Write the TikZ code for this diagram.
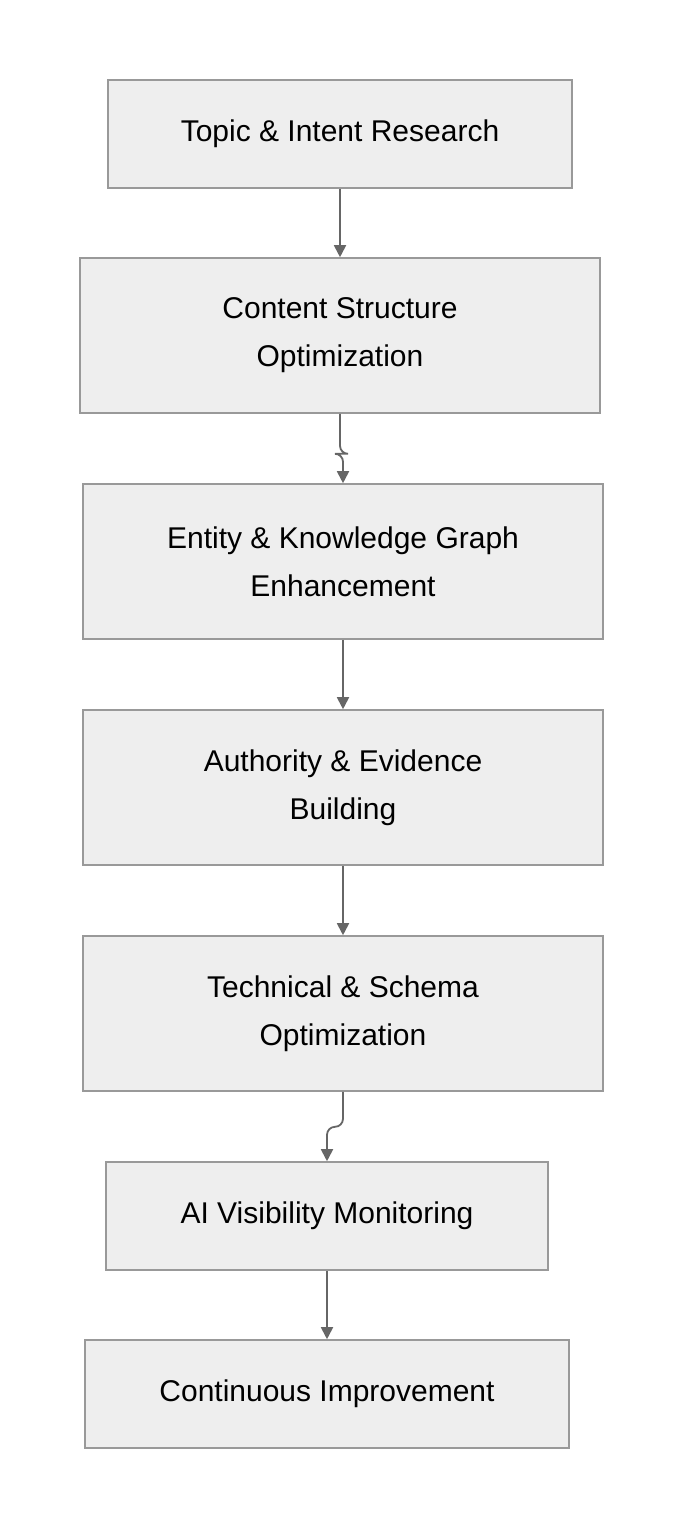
\documentclass[tikz,border=0pt]{standalone}
\usepackage{fontspec}
\setmainfont{Liberation Sans}
\usetikzlibrary{arrows.meta}
\definecolor{boxfill}{HTML}{EEEEEE}
\definecolor{boxline}{HTML}{999999}
\definecolor{arrowcol}{HTML}{666666}
\tikzset{
  stage/.style={draw=boxline, fill=boxfill, line width=0.8pt, align=center,
    font=\fontsize{15pt}{24pt}\selectfont, inner sep=0pt},
  flow/.style={draw=arrowcol, line width=0.9pt, -{Triangle[length=6pt,width=6pt]}, rounded corners=4pt}
}
\begin{document}
\begin{tikzpicture}[x=0.5pt, y=-0.5pt]
  \useasboundingbox (0,0) rectangle (682,1528);
  \node[stage, minimum width=232pt, minimum height=54pt] (topic) at (340,134) {Topic \& Intent Research};
  \node[stage, minimum width=260pt, minimum height=77.5pt] (structure) at (340,335.5) {Content Structure\\Optimization};
  \node[stage, minimum width=260pt, minimum height=77.5pt] (entity) at (343,561.5) {Entity \& Knowledge Graph\\Enhancement};
  \node[stage, minimum width=260pt, minimum height=77.5pt] (authority) at (343,787.5) {Authority \& Evidence\\Building};
  \node[stage, minimum width=260pt, minimum height=77.5pt] (technical) at (343,1013.5) {Technical \& Schema\\Optimization};
  \node[stage, minimum width=221pt, minimum height=54pt] (monitor) at (327,1216) {AI Visibility Monitoring};
  \node[stage, minimum width=242pt, minimum height=54pt] (improve) at (327,1394) {Continuous Improvement};
  % connectors
  \draw[flow] (topic) -- (structure);
  \draw[flow] (structure.south) -- ++(0,40) -| (entity.north);
  \draw[flow] (entity) -- (authority);
  \draw[flow] (authority) -- (technical);
  \draw[flow] (technical.south) -- ++(0,35) -| (monitor.north);
  \draw[flow] (monitor) -- (improve);
\end{tikzpicture}
\end{document}
